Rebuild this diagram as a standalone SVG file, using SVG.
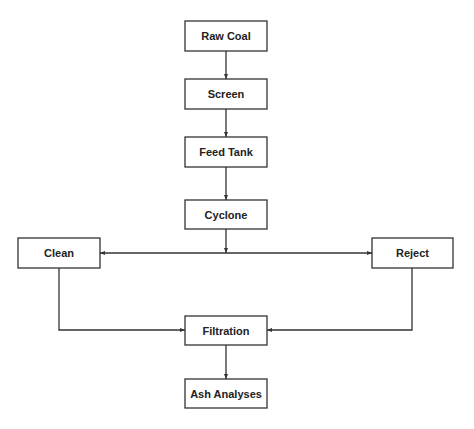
<svg xmlns="http://www.w3.org/2000/svg" width="474" height="429" viewBox="0 0 474 429">
<defs>
<style>
.box{fill:#fff;stroke:#333;stroke-width:1.3}
.lbl{font-family:"Liberation Sans",Arial,sans-serif;font-size:11px;font-weight:bold;fill:#222;text-anchor:middle;dominant-baseline:central}
.ln{fill:none;stroke:#333;stroke-width:1.3}
</style>
<marker id="ah" viewBox="0 0 10 10" refX="10" refY="5" markerWidth="5" markerHeight="5" orient="auto" markerUnits="userSpaceOnUse">
<path d="M0,1 L10,5 L0,9 Z" fill="#333"/>
</marker>
</defs>
<rect width="474" height="429" fill="#fff"/>
<g id="connectors">
<line class="ln" x1="226" y1="51" x2="226" y2="79" marker-end="url(#ah)"/>
<line class="ln" x1="226" y1="109" x2="226" y2="137" marker-end="url(#ah)"/>
<line class="ln" x1="226" y1="167" x2="226" y2="200" marker-end="url(#ah)"/>
<line class="ln" x1="226" y1="229" x2="226" y2="253" marker-end="url(#ah)"/>
<line class="ln" x1="226" y1="253" x2="100" y2="253" marker-end="url(#ah)"/>
<line class="ln" x1="226" y1="253" x2="372" y2="253" marker-end="url(#ah)"/>
<polyline class="ln" points="59,268 59,330 185,330" marker-end="url(#ah)"/>
<polyline class="ln" points="412,268 412,330 267,330" marker-end="url(#ah)"/>
<line class="ln" x1="226" y1="345" x2="226" y2="379" marker-end="url(#ah)"/>
</g>
<g id="raw-coal"><rect class="box" x="185" y="21" width="82" height="30"/><text class="lbl" x="226" y="36">Raw Coal</text></g>
<g id="screen"><rect class="box" x="185" y="79" width="82" height="30"/><text class="lbl" x="226" y="94">Screen</text></g>
<g id="feed-tank"><rect class="box" x="185" y="137" width="82" height="30"/><text class="lbl" x="226" y="152">Feed Tank</text></g>
<g id="cyclone"><rect class="box" x="185" y="200" width="82" height="29"/><text class="lbl" x="226" y="214.5">Cyclone</text></g>
<g id="clean"><rect class="box" x="18" y="238" width="82" height="30"/><text class="lbl" x="59" y="253">Clean</text></g>
<g id="reject"><rect class="box" x="372" y="238" width="81" height="30"/><text class="lbl" x="412.5" y="253">Reject</text></g>
<g id="filtration"><rect class="box" x="185" y="316" width="82" height="29"/><text class="lbl" x="226" y="330.5">Filtration</text></g>
<g id="ash-analyses"><rect class="box" x="185" y="379" width="82" height="29"/><text class="lbl" x="226" y="393.5">Ash Analyses</text></g>
</svg>
